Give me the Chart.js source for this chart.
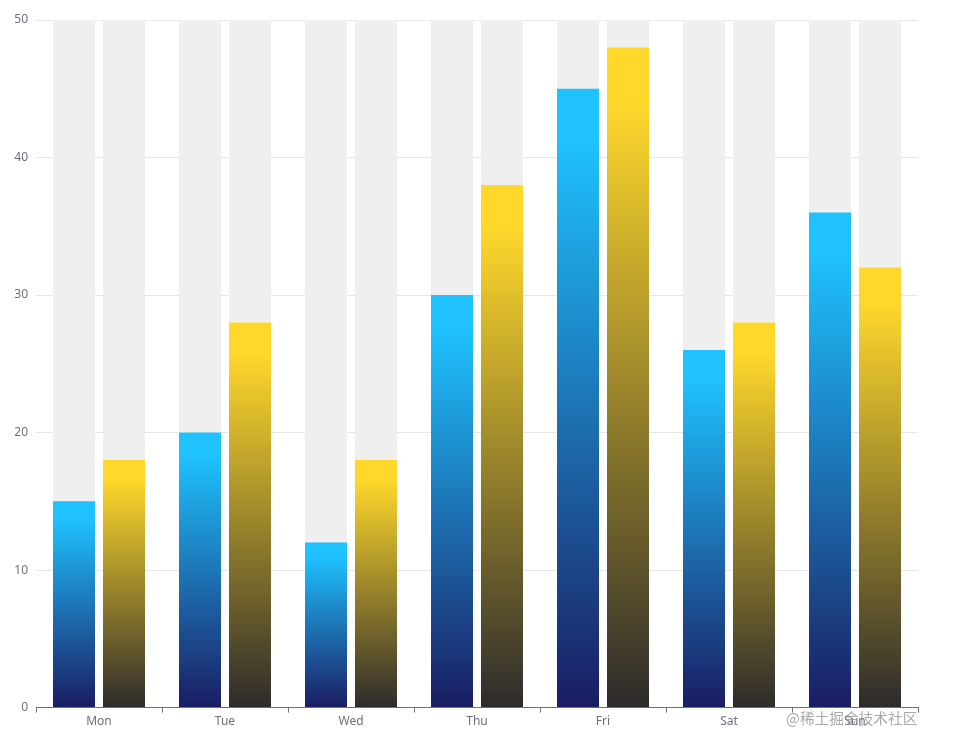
<!DOCTYPE html>
<html>
<head>
<meta charset="utf-8">
<script src="https://cdn.jsdelivr.net/npm/chart.js@4/dist/chart.umd.min.js"></script>
<style>
  html, body { margin: 0; padding: 0; background: #fff; }
  #wrap { position: relative; width: 954px; height: 736px; }
  #mark {
    position: absolute; left: 786px; top: 707px;
    font-family: "Noto Sans CJK SC", sans-serif; font-size: 14.7px;
    color: rgba(140, 140, 140, 0.75); letter-spacing: 0px;
  }
</style>
</head>
<body>
<div id="wrap">
  <canvas id="chart" width="954" height="736"></canvas>
  <div id="mark">@稀土掘金技术社区</div>
</div>
<script>
const days = ["Mon", "Tue", "Wed", "Thu", "Fri", "Sat", "Sun"];
const blueValues = [15, 20, 12, 30, 45, 26, 36];
const yellowValues = [18, 28, 18, 38, 48, 28, 32];
const maxValues = [50, 50, 50, 50, 50, 50, 50];

// vertical gradient sized to each bar
function barGradient(top, bottom) {
  return function (ctx) {
    const chart = ctx.chart;
    if (!chart.chartArea || ctx.type !== "data") return top;
    const y = chart.scales.y;
    const y0 = y.getPixelForValue(ctx.raw);
    const y1 = y.getPixelForValue(0);
    if (!isFinite(y0) || y1 - y0 < 1) return top;
    const g = chart.ctx.createLinearGradient(0, y0, 0, y1);
    g.addColorStop(0, top);
    g.addColorStop(0.08, top);
    g.addColorStop(1, bottom);
    return g;
  };
}

const common = { categoryPercentage: 100 / 126, barPercentage: 0.84 };

new Chart(document.getElementById("chart"), {
  type: "bar",
  data: {
    labels: days,
    datasets: [
      { ...common, label: "a", stack: "s1", data: blueValues, backgroundColor: barGradient("#1fc2ff", "#1a1d62") },
      { ...common, label: "b", stack: "s2", data: yellowValues, backgroundColor: barGradient("#ffd82b", "#2d2b2b") },
      { ...common, label: "bg1", stack: "s1", data: maxValues, backgroundColor: "#efefef" },
      { ...common, label: "bg2", stack: "s2", data: maxValues, backgroundColor: "#efefef" },
    ],
  },
  options: {
    responsive: false,
    animation: false,
    layout: { padding: { top: 20, right: 36, bottom: 5, left: 0 } },
    plugins: { legend: { display: false }, tooltip: { enabled: false } },
    scales: {
      x: {
        stacked: true,
        grid: { drawOnChartArea: false, offset: true, tickLength: 5, color: "#6e7079" },
        border: { color: "#6e7079" },
        ticks: { color: "#6e7079", font: { family: "Noto Sans", size: 12 }, padding: 2 },
      },
      y: {
        stacked: false,
        min: 0,
        max: 50,
        afterFit: (s) => { s.width = 36; },
        grid: { color: "#e6e6e6", tickLength: 0 },
        border: { display: false },
        ticks: { stepSize: 10, color: "#6e7079", font: { family: "Noto Sans", size: 12 }, padding: 8 },
      },
    },
  },
});
</script>
</body>
</html>
